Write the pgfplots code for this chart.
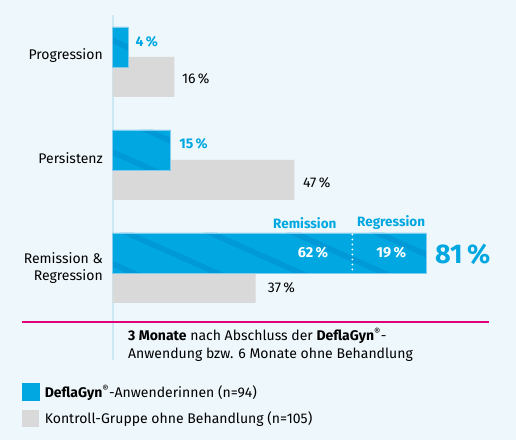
\documentclass[border=0pt]{standalone}
\usepackage{fontspec}
\setmainfont{Fira Sans}
\usepackage{pgfplots}
\pgfplotsset{compat=1.18}
\usetikzlibrary{patterns.meta}
\definecolor{bg}{HTML}{EEF7FB}
\definecolor{blu}{HTML}{00A7E1}
\definecolor{bluD}{HTML}{0099D8}
\definecolor{bluB}{HTML}{7FCCEE}
\definecolor{gry}{HTML}{D9D9D9}
\definecolor{pinkl}{HTML}{E2007A}
\definecolor{axl}{HTML}{CDE8F5}
\tikzdeclarepattern{
  name=bstripes,
  type=uncolored,
  bottom left={(-.1bp,-.1bp)},
  top right={(10.1bp,34.1bp)},
  tile size={(10bp,34bp)},
  tile transformation={rotate=-24},
  code={\fill (-.1bp,0bp) rectangle (10.1bp,5.5bp);}
}
\begin{document}
\begin{tikzpicture}[x=1bp,y=1bp, lbl/.style={inner sep=0pt}]
\fill[bg] (0,0) rectangle (516,440);
\useasboundingbox (0,0) rectangle (516,440);
\begin{axis}[
  at={(112.5bp,80bp)}, anchor=south west, scale only axis,
  width=387bp, height=345bp,
  xmin=0, xmax=100, ymin=80, ymax=425,
  hide axis, clip=false,
  xbar, bar shift=0pt, bar width=40,
  font=\fontsize{14bp}{16bp}\selectfont,
  reverse legend,
  legend cell align=left,
  legend style={at={(-0.2339,-0.066)}, anchor=north west, draw=none, fill=none,
    inner sep=0pt, row sep=8.5bp, font=\fontsize{14bp}{16bp}\selectfont},
]
\draw[axl, line width=2bp] (axis cs:0,80) -- (axis cs:0,425);
\addplot[fill=gry, draw=none,
  legend image code/.code={\fill[gry] (0bp,-8.5bp) rectangle (17bp,8.5bp); \path (20bp,0bp);}]
  coordinates {(16,363) (47,260) (37,157)};
\addplot[fill=blu, draw=bluB, line width=0.6bp,
  postaction={pattern=bstripes, pattern color=bluD},
  legend image code/.code={\fill[blu] (0bp,-8.5bp) rectangle (17bp,8.5bp); \path (20bp,0bp);}]
  coordinates {(4,393) (15,290) (81,187)};
\legend{Kontroll-Gruppe ohne Behandlung (n=105),
  \textbf{DeflaGyn}\textsuperscript{®}-Anwenderinnen (n=94)}
\draw[white, line width=2bp, line cap=round, dash pattern=on 0bp off 5bp] (axis cs:62,205.5) -- (axis cs:62,167);
% category labels
\node[lbl, anchor=east, xshift=-9.5bp] at (axis cs:0,384) {Progression};
\node[lbl, anchor=east, xshift=-9.5bp] at (axis cs:0,282) {Persistenz};
\node[lbl, anchor=east, xshift=-9.5bp, align=right, font=\fontsize{14bp}{17bp}\selectfont] at (axis cs:0,172) {Remission \&\\Regression};
% value labels
\node[lbl, anchor=west, xshift=7.5bp, text=blu, font=\fontsize{14bp}{16bp}\selectfont\bfseries] at (axis cs:4,398) {4\,\%};
\node[lbl, anchor=west, xshift=7.5bp] at (axis cs:16,361) {16\,\%};
\node[lbl, anchor=west, xshift=8.5bp, text=blu, font=\fontsize{14bp}{16bp}\selectfont\bfseries] at (axis cs:15,296) {15\,\%};
\node[lbl, anchor=west, xshift=8.5bp] at (axis cs:47,257) {47\,\%};
\node[lbl, anchor=west, xshift=12bp] at (axis cs:37,152) {37\,\%};
\node[text=white, font=\fontsize{14.5bp}{16bp}\selectfont\bfseries] at (axis cs:51.8,187) {62\,\%};
\node[text=white, font=\fontsize{14.5bp}{16bp}\selectfont\bfseries] at (axis cs:72,187) {19\,\%};
\node[text=blu, font=\fontsize{13.5bp}{15bp}\selectfont\bfseries] at (axis cs:49.7,217) {Remission};
\node[text=blu, font=\fontsize{13.5bp}{15bp}\selectfont\bfseries] at (axis cs:72,217) {Regression};
\node[lbl, anchor=west, xshift=9bp, text=blu, font=\fontsize{27bp}{30bp}\selectfont\bfseries] at (axis cs:81,186) {81\,\%};
\end{axis}
\draw[pinkl, line width=2bp] (22,118) -- (489,118);
\node[anchor=base west, inner sep=0pt, font=\fontsize{14bp}{16bp}\selectfont] at (128,99) {\textbf{3 Monate} nach Abschluss der \textbf{DeflaGyn}\textsuperscript{®}-};
\node[anchor=base west, inner sep=0pt, font=\fontsize{14bp}{16bp}\selectfont] at (128,81) {Anwendung bzw. 6 Monate ohne Behandlung};
\end{tikzpicture}
\end{document}
